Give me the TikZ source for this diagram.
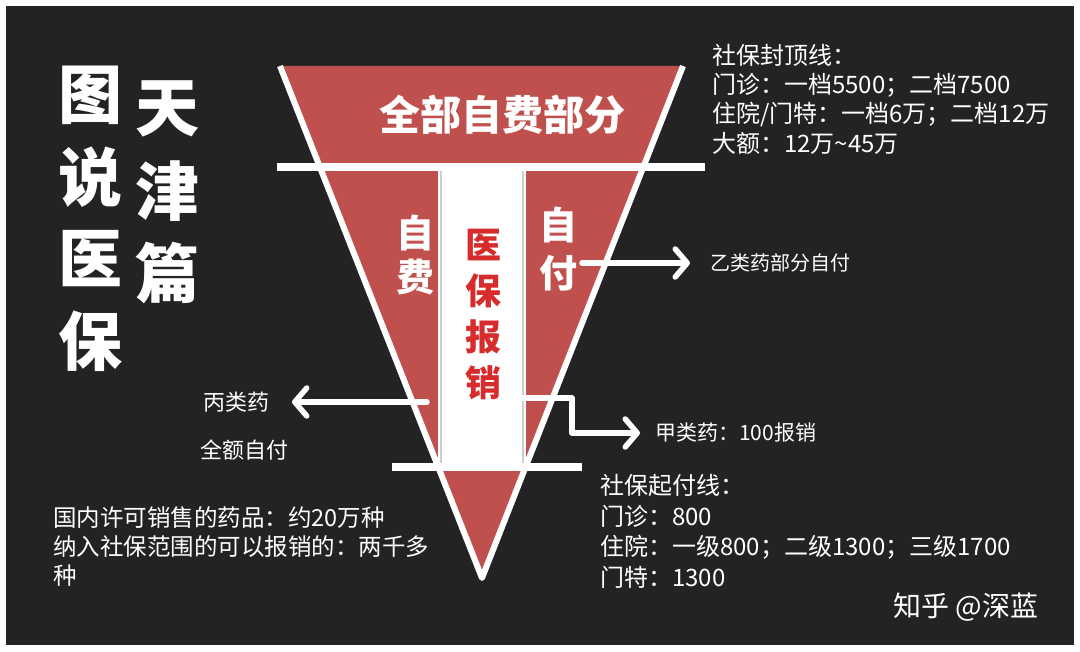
\documentclass[tikz,border=0pt]{standalone}
\usepackage{fontspec}
\setmainfont{Noto Sans CJK SC}
\usetikzlibrary{arrows.meta,positioning}
\definecolor{tj-dark}{RGB}{35,35,35}
\definecolor{tj-red}{RGB}{192,80,77}
\definecolor{tj-edge}{RGB}{205,205,205}
\definecolor{tj-ink}{RGB}{214,44,44}

\begin{document}
\begin{tikzpicture}[x=1pt, y=-1pt,
    every node/.style={inner sep=0pt, text=white},
    title/.style={font=\fontsize{64}{64}\selectfont\bfseries},
    tag/.style={font=\fontsize{38}{38}\selectfont\bfseries},
    info/.style={font=\fontsize{24}{24}\selectfont, anchor=base west},
    note/.style={font=\fontsize{21}{21}\selectfont},
    wline/.style={draw=white, line width=8pt},
    arr/.style={draw=white, line width=5.5pt, line cap=round, line join=round, -{Straight Barb[round, length=12pt, width=28pt]}}]
    \fill[white] (0,0) rectangle (1080,652);
    \fill[tj-dark] (6,6) rectangle (1074,645);

    \coordinate (tl) at (280,66);
    \coordinate (tr) at (683,66);
    \coordinate (tip) at (482,578);
    \fill[tj-red] (tl) -- (tr) -- (tip) -- cycle;
    \begin{scope}
        \clip (tl) -- (tr) -- (tip) -- cycle;
        \fill[white] (438,167) rectangle (526,467);
        \draw[tj-edge, line width=1.5pt] (441,167) -- (441,467) (523,167) -- (523,467);
    \end{scope}
    \draw[white, line width=6pt, line join=round] (tl) -- (tip) -- (tr);
    \draw[wline] (277,167) -- (705,167);
    \draw[wline] (392,467) -- (582,467);

    \node[font=\fontsize{41}{41}\selectfont\bfseries] (all) at (502,115) {全部自费部分};

    \foreach \c [count=\i] in {图,说,医,保}
        \node[title] (tu\i) at (90, {95+82*(\i-1)}) {\c};
    \foreach \c [count=\i] in {天,津,篇}
        \node[title] (tj\i) at (167, {109+82*(\i-1)}) {\c};
    \foreach \c [count=\i] in {自,费}
        \node[tag] (zf\i) at (415, {233+44*(\i-1)}) {\c};
    \foreach \c [count=\i] in {自,付}
        \node[tag] (zp\i) at (558, {225+48*(\i-1)}) {\c};
    \foreach \c [count=\i] in {医,保,报,销}
        \node[tag, font=\fontsize{36}{36}\selectfont\bfseries, text=tj-ink] (yb\i) at (483, {245+46*(\i-1)}) {\c};

    \node[note, font=\fontsize{20}{20}\selectfont, anchor=west] (yi) at (710,263) {乙类药部分自付};
    \coordinate (fu) at (582,263);
    \draw[arr, shorten >=20pt] (fu) -- (yi.west);

    \node[note, font=\fontsize{22}{22}\selectfont, anchor=east] (bing) at (270,402) {丙类药};
    \node[note, font=\fontsize{22}{22}\selectfont] (quan) at (244,450) {全额自付};
    \coordinate (bingfrom) at (427,402);
    \draw[arr, shorten >=22pt] (bingfrom) -- (bing.east);

    \node[note, anchor=west] (jia) at (655,433) {甲类药：100报销};
    \coordinate (jiafrom) at (505,398);
    \coordinate (jiabend) at (572,398);
    \draw[arr, shorten >=15pt] (jiafrom) -- (jiabend) |- (jia.west);

    \foreach \t [count=\i] in {社保封顶线：, 门诊：一档5500；二档7500, 住院/门特：一档6万；二档12万, 大额：12万\textasciitilde45万}
        \node[info] (cap\i) at (712, {64.4+29.3*(\i-1)}) {\t};
    \foreach \t [count=\i] in {社保起付线：, 门诊：800, 住院：一级800；二级1300；三级1700, 门特：1300}
        \node[info] (base\i) at (600, {494.4+30.7*(\i-1)}) {\t};
    \foreach \t [count=\i] in {国内许可销售的药品：约20万种, 纳入社保范围的可以报销的：两千多, 种}
        \node[info, font=\fontsize{23.5}{23.5}\selectfont] (drug\i) at (53, {526+29*(\i-1)}) {\t};

    \node[font=\fontsize{28}{28}\selectfont] (zhihu) at (966,607) {知乎 @深蓝};
\end{tikzpicture}
\end{document}
